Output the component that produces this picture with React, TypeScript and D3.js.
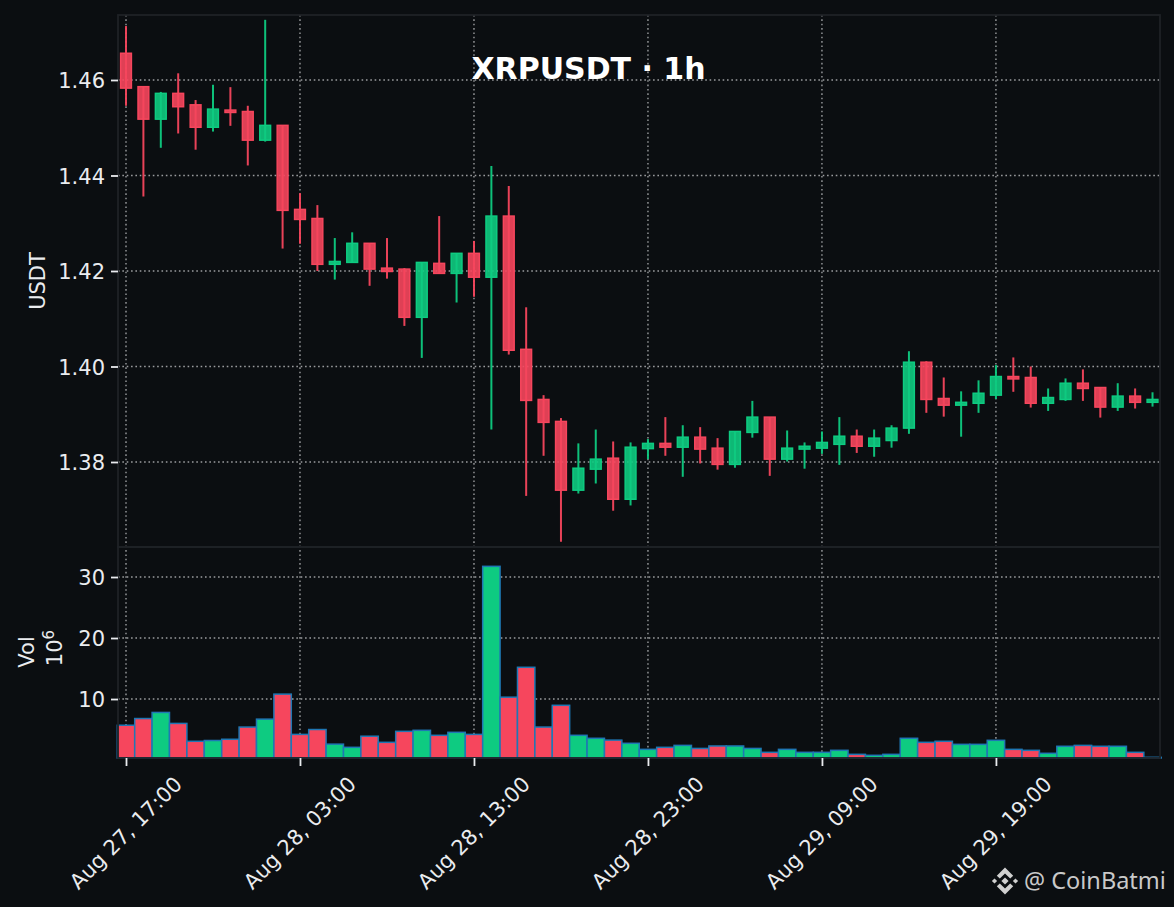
import { useRef, useEffect } from 'react';
import * as d3 from 'd3';

// Hourly candles, Aug 27 17:00 onwards
const opens = [
  1.4656, 1.4586, 1.4518, 1.4572, 1.4548, 1.4501, 1.4537, 1.4534, 1.4474, 1.4505,
  1.4329, 1.4310, 1.4214, 1.4218, 1.4258, 1.4206, 1.4204, 1.4103, 1.4216, 1.4195,
  1.4237, 1.4187, 1.4315, 1.4036, 1.3931, 1.3885, 1.3741, 1.3785, 1.3808, 1.3722,
  1.3828, 1.3839, 1.3831, 1.3852, 1.3829, 1.3795, 1.3862, 1.3894, 1.3806, 1.3827,
  1.3829, 1.3837, 1.3854, 1.3833, 1.3845, 1.3871, 1.4009, 1.3933, 1.3919, 1.3923,
  1.3940, 1.3979, 1.3977, 1.3923, 1.3931, 1.3965, 1.3956, 1.3915, 1.3938, 1.3925,
];
const highs = [
  1.4713, 1.4586, 1.4575, 1.4614, 1.4558, 1.4590, 1.4585, 1.4546, 1.4726, 1.4505,
  1.4363, 1.4338, 1.4269, 1.4281, 1.4258, 1.4269, 1.4206, 1.4218, 1.4315, 1.4237,
  1.4263, 1.4420, 1.4378, 1.4124, 1.3940, 1.3892, 1.3839, 1.3868, 1.3843, 1.3841,
  1.3848, 1.3894, 1.3877, 1.3873, 1.3850, 1.3864, 1.3928, 1.3894, 1.3866, 1.3841,
  1.3864, 1.3894, 1.3868, 1.3868, 1.3877, 1.4032, 1.4011, 1.3977, 1.3948, 1.3971,
  1.4003, 1.4019, 1.4000, 1.3954, 1.3975, 1.3994, 1.3956, 1.3965, 1.3954, 1.3946,
];
const lows = [
  1.4546, 1.4356, 1.4458, 1.4488, 1.4454, 1.4492, 1.4504, 1.4421, 1.4471, 1.4247,
  1.4257, 1.4200, 1.4182, 1.4218, 1.4169, 1.4184, 1.4085, 1.4018, 1.4195, 1.4134,
  1.4146, 1.3868, 1.4025, 1.3729, 1.3813, 1.3633, 1.3734, 1.3755, 1.3698, 1.3709,
  1.3806, 1.3813, 1.3769, 1.3797, 1.3784, 1.3788, 1.3851, 1.3771, 1.3801, 1.3786,
  1.3817, 1.3794, 1.3819, 1.3811, 1.3830, 1.3859, 1.3903, 1.3895, 1.3853, 1.3903,
  1.3932, 1.3947, 1.3914, 1.3907, 1.3928, 1.3928, 1.3893, 1.3907, 1.3912, 1.3916,
];
const closes = [
  1.4583, 1.4518, 1.4572, 1.4544, 1.4501, 1.4539, 1.4532, 1.4474, 1.4505, 1.4327,
  1.4308, 1.4214, 1.4220, 1.4258, 1.4204, 1.4199, 1.4103, 1.4218, 1.4195, 1.4237,
  1.4187, 1.4315, 1.4034, 1.3929, 1.3883, 1.3741, 1.3787, 1.3806, 1.3722, 1.3831,
  1.3839, 1.3831, 1.3852, 1.3827, 1.3795, 1.3864, 1.3894, 1.3806, 1.3829, 1.3833,
  1.3841, 1.3854, 1.3833, 1.3850, 1.3871, 1.4009, 1.3931, 1.3919, 1.3925, 1.3944,
  1.3979, 1.3974, 1.3923, 1.3935, 1.3965, 1.3954, 1.3915, 1.3938, 1.3925, 1.3931,
];
// volume in millions
const volumes = [
  5.7, 6.8, 7.8, 6.0, 3.07, 3.2, 3.4, 5.4, 6.7, 10.8,
  4.2, 5.0, 2.6, 2.08, 3.9, 2.9, 4.7, 4.87, 4.05, 4.54,
  4.2, 31.75, 10.3, 15.2, 5.4, 8.97, 4.05, 3.56, 3.26, 2.74,
  1.75, 2.08, 2.4, 1.9, 2.3, 2.3, 1.9, 1.26, 1.75, 1.26,
  1.26, 1.59, 0.93, 0.77, 0.93, 3.56, 2.9, 3.07, 2.57, 2.57,
  3.23, 1.75, 1.59, 1.1, 2.25, 2.4, 2.25, 2.25, 1.26, 0.44,
];
const priceTicks = [1.38, 1.40, 1.42, 1.44, 1.46];
const volTicks = [10, 20, 30];
const timeTickIdx = [0, 10, 20, 30, 40, 50];
const timeTickLabels = [
  'Aug 27, 17:00', 'Aug 28, 03:00', 'Aug 28, 13:00',
  'Aug 28, 23:00', 'Aug 29, 09:00', 'Aug 29, 19:00',
];

const BG = '#0b0e11';
const UP = '#0ecb81';
const DOWN = '#f6465d';
const TICK_TEXT = '#eaecef';

export default function App() {
  const ref = useRef<SVGSVGElement>(null);

  useEffect(() => {
    document.body.style.margin = '0';
    document.body.style.background = BG;
    const width = 1174;
    const height = 907;
    const left = 118, right = 1160, top = 15, mid = 547, bottom = 758;

    const svg = d3.select(ref.current!).attr('width', width).attr('height', height);
    svg.selectAll('*').remove();

    const idx = d3.range(closes.length);
    const x = d3.scaleLinear().domain([-0.46, 59.43]).range([left, right]);
    const y = d3.scaleLinear().domain([1.3622, 1.47361]).range([mid, top]);
    const yVol = d3.scaleLinear().domain([0.33, 34.92]).range([bottom, mid]);

    svg.append('rect').attr('width', width).attr('height', height).attr('fill', BG);

    const font = "'DejaVu Sans', sans-serif";

    // grid
    const grid = svg.append('g')
      .attr('stroke', '#9a9c9e')
      .attr('stroke-width', 1.4)
      .attr('stroke-dasharray', '1.6 2.75');
    timeTickIdx.forEach(i => {
      grid.append('line').attr('x1', x(i)).attr('x2', x(i)).attr('y1', top).attr('y2', bottom);
    });
    priceTicks.forEach(p => {
      grid.append('line').attr('x1', left).attr('x2', right).attr('y1', y(p)).attr('y2', y(p));
    });
    volTicks.forEach(v => {
      grid.append('line').attr('x1', left).attr('x2', right).attr('y1', yVol(v)).attr('y2', yVol(v));
    });

    const isUp = (i: number) => closes[i] >= opens[i];

    // wicks
    svg.append('g').selectAll('line').data(idx).join('line')
      .attr('x1', d => x(d)).attr('x2', d => x(d))
      .attr('y1', d => y(highs[d])).attr('y2', d => y(lows[d]))
      .attr('stroke', d => isUp(d) ? UP : DOWN)
      .attr('stroke-opacity', 0.95)
      .attr('stroke-width', 2);

    // bodies
    svg.append('g').selectAll('rect').data(idx).join('rect')
      .attr('x', d => x(d) - 5.4)
      .attr('width', 10.8)
      .attr('y', d => y(Math.max(opens[d], closes[d])))
      .attr('height', d => Math.abs(y(opens[d]) - y(closes[d])))
      .attr('fill', d => isUp(d) ? UP : DOWN)
      .attr('fill-opacity', 0.9)
      .attr('stroke', d => isUp(d) ? UP : DOWN)
      .attr('stroke-width', 1.5);

    // volume bars
    const step = x(1) - x(0);
    svg.append('g').selectAll('rect').data(idx).join('rect')
      .attr('x', d => x(d) - step / 2)
      .attr('width', step)
      .attr('y', d => yVol(volumes[d]))
      .attr('height', d => bottom - yVol(volumes[d]))
      .attr('fill', d => isUp(d) ? UP : DOWN)
      .attr('stroke', '#1f77b4')
      .attr('stroke-width', 1.5);

    // panel frames
    [[top, mid], [mid, bottom]].forEach(([a, b]) => {
      svg.append('rect')
        .attr('x', left).attr('y', a)
        .attr('width', right - left).attr('height', b - a)
        .attr('fill', 'none')
        .attr('stroke', '#1e2226')
        .attr('stroke-width', 1.8);
    });

    // axes
    const styleAxis = (g: d3.Selection<SVGGElement, unknown, null, undefined>) => {
      g.select('.domain').remove();
      g.selectAll('.tick line').attr('stroke', TICK_TEXT).attr('stroke-width', 1.8);
      g.selectAll('.tick text')
        .attr('fill', TICK_TEXT)
        .attr('dy', '0.36em')
        .style('font-family', font)
        .style('font-size', '21px');
    };

    svg.append('g')
      .attr('transform', `translate(${left},0)`)
      .call(d3.axisLeft(y).tickValues(priceTicks).tickFormat(d => d3.format('.2f')(d as number)).tickSize(7).tickPadding(6))
      .call(styleAxis as any);

    svg.append('g')
      .attr('transform', `translate(${left},0)`)
      .call(d3.axisLeft(yVol).tickValues(volTicks).tickFormat(d => String(d)).tickSize(7).tickPadding(6))
      .call(styleAxis as any);

    const xAxis = svg.append('g')
      .attr('transform', `translate(0,${bottom})`)
      .call(d3.axisBottom(x).tickValues(timeTickIdx).tickFormat((_, i) => timeTickLabels[i]).tickSize(8))
      .call(styleAxis as any);
    xAxis.selectAll('.tick text')
      .attr('y', 0).attr('dy', 0)
      .attr('text-anchor', 'middle')
      .attr('dominant-baseline', 'central')
      .attr('transform', 'translate(-0.5,75) rotate(-45)');

    // axis titles
    const rotated = (tx: number, ty: number, label: string) =>
      svg.append('text')
        .attr('transform', `translate(${tx},${ty}) rotate(-90)`)
        .attr('text-anchor', 'middle')
        .attr('fill', TICK_TEXT)
        .style('font-family', font)
        .style('font-size', '21px')
        .text(label);

    rotated(45, 281, 'USDT');
    rotated(34, 652, 'Vol');
    const exp = rotated(62, 648, '10');
    exp.append('tspan').attr('dy', -8).style('font-size', '15px').text('6');

    // title
    svg.append('text')
      .attr('x', 588.5).attr('y', 79)
      .attr('text-anchor', 'middle')
      .attr('fill', '#ffffff')
      .style('font-family', font)
      .style('font-weight', 'bold')
      .style('font-size', '30px')
      .text('XRPUSDT · 1h');

    // watermark
    const mark = svg.append('g').attr('transform', 'translate(1005,881)').attr('fill', '#d0d0d0');
    mark.append('path').attr('d', 'M0-3.6L3.6 0L0 3.6L-3.6 0Z');
    mark.append('path').attr('d', 'M-10.5-2.6L-7.9 0L-10.5 2.6L-13.1 0Z M10.5-2.6L13.1 0L10.5 2.6L7.9 0Z');
    mark.append('path').attr('d', 'M0-13.5L8.2-5.3L5.2-2.6L0-7.4L-5.2-2.6L-8.2-5.3Z');
    mark.append('path').attr('d', 'M0 13.5L8.2 5.3L5.2 2.6L0 7.4L-5.2 2.6L-8.2 5.3Z');
    svg.append('text')
      .attr('x', 1024).attr('y', 889)
      .attr('fill', '#c9c9c9')
      .style('font-family', "'Noto Sans', sans-serif")
      .style('font-size', '23.5px')
      .text('@ CoinBatmi');
  }, []);

  return <svg ref={ref} style={{ display: 'block' }}></svg>;
}
